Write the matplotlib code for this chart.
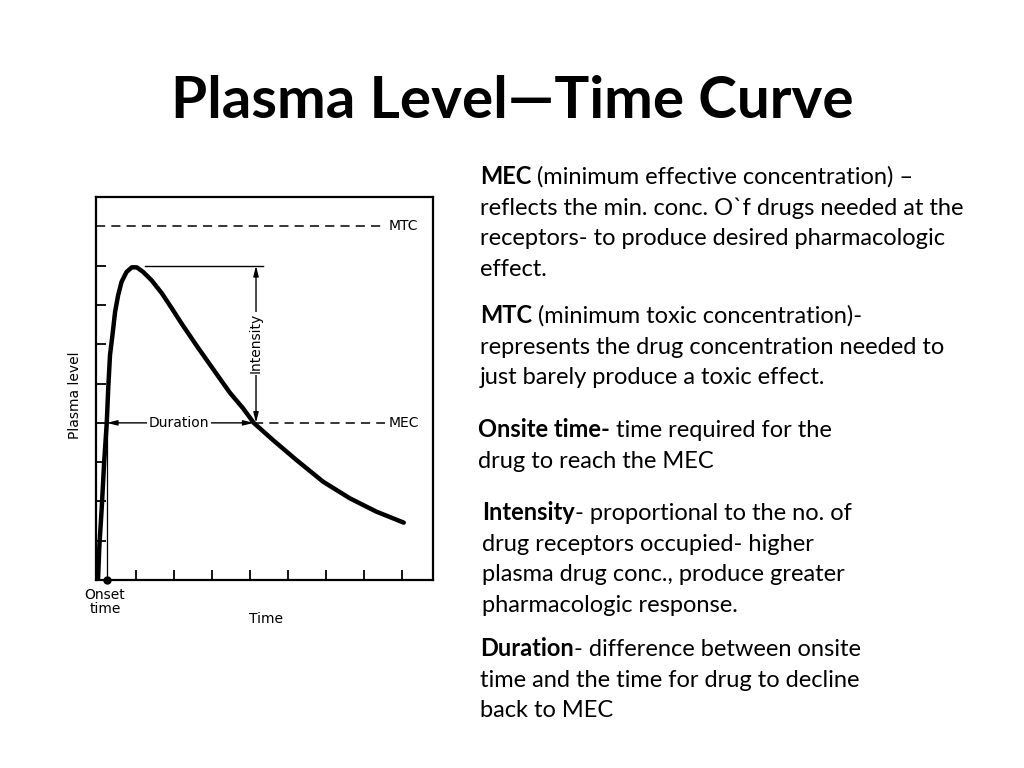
import matplotlib
matplotlib.use('Agg')
import matplotlib.pyplot as plt

W, H = 1024, 768
TXT_FONT = 'Lato'
DIA_FONT = 'DejaVu Sans'

# curve (time units = x ticks, level units = y ticks)
time = [0.0, 0.035, 0.10, 0.16, 0.23, 0.27, 0.316, 0.38, 0.45, 0.53, 0.62,
        0.75, 0.89, 1.02, 1.19, 1.41, 1.68, 1.94, 2.2, 2.6, 3.03, 3.47,
        3.82, 4.1, 4.61, 5.23, 5.93, 6.63, 7.33, 8.05]
level = [0.0, 0.85, 1.87, 2.97, 4.0, 4.9, 5.73, 6.23, 6.83, 7.25, 7.59,
         7.84, 7.96, 7.96, 7.84, 7.63, 7.30, 6.92, 6.53, 5.96, 5.37, 4.77,
         4.37, 4.0, 3.56, 3.05, 2.50, 2.08, 1.74, 1.46]
mec, mtc = 4.0, 9.0
onset, decline = 0.23, 4.1
peak = 8.0
ticks = [1, 2, 3, 4, 5, 6, 7, 8]

# right-hand notes: (bold word, rest of first line, more lines)
notes = [
    ('MEC', ' (minimum effective concentration) \u2013',
     ['reflects the min. conc. O`f drugs needed at the',
      'receptors- to produce desired pharmacologic', 'effect.']),
    ('MTC', ' (minimum toxic concentration)-',
     ['represents the drug concentration needed to',
      'just barely produce a toxic effect.']),
    ('Onsite time-', ' time required for the', ['drug to reach the MEC']),
    ('Intensity', '- proportional to the no. of',
     ['drug receptors occupied- higher',
      'plasma drug conc., produce greater', 'pharmacologic response.']),
    ('Duration', '- difference between onsite',
     ['time and the time for drug to decline', 'back to MEC']),
]
note_x = [480, 480, 478, 482, 480]
note_y = [184, 323, 437, 520, 656]
pitch = 30.7
FS = 17

fig = plt.figure(figsize=(W / 100, H / 100), dpi=100)
fig.patch.set_facecolor('white')


def px(x, y):
    return x / W, 1 - y / H


# diagram
ax = fig.add_axes([96 / W, 1 - 580 / H, 337 / W, 383 / H])
ax.set_xlim(-0.053, 8.82)
ax.set_ylim(0, 9.75)
for s in ax.spines.values():
    s.set_linewidth(1.6)
ax.set_xticks(ticks)
ax.set_yticks(ticks)
ax.set_xticklabels([])
ax.set_yticklabels([])
ax.tick_params(direction='in', length=7, width=1.3)

fig.text(*px(512, 118), 'Plasma Level\u2014Time Curve', ha='center',
         va='baseline', fontsize=42, fontweight='bold', family=TXT_FONT)

for (bold, rest, more), x0, y0 in zip(notes, note_x, note_y):
    t = fig.text(*px(x0, y0), bold, fontsize=FS, fontweight='bold',
                 family=TXT_FONT, va='baseline')
    ax.annotate(rest, xy=(1, 0), xycoords=t, va='bottom', ha='left',
                fontsize=FS, family=TXT_FONT, annotation_clip=False)
    for i, line in enumerate(more):
        fig.text(*px(x0, y0 + pitch * (i + 1)), line, fontsize=FS,
                 family=TXT_FONT, va='baseline')

ax.plot(time, level, color='black', lw=3.2, solid_capstyle='round',
        solid_joinstyle='round')
ax.plot([-0.05, 7.55], [mtc, mtc], color='black', lw=1.1, dashes=(6, 4))
ax.plot([decline, 7.55], [mec, mec], color='black', lw=1.1, dashes=(6, 4))
ax.text(7.66, mtc, 'MTC', va='center', ha='left', fontsize=10, family=DIA_FONT)
ax.text(7.66, mec, 'MEC', va='center', ha='left', fontsize=10, family=DIA_FONT)

# onset marker and vertical line
ax.plot([onset, onset], [0, mec], color='black', lw=0.9)
ax.plot([onset], [0], 'o', color='black', ms=5, clip_on=False, zorder=5)

# duration arrow
ax.annotate('', xy=(onset, mec), xytext=(decline, mec),
            arrowprops=dict(arrowstyle='<|-|>,head_length=0.6,head_width=0.15',
                            color='black', lw=1, shrinkA=0, shrinkB=0))
ax.text(2.13, mec, 'Duration', ha='center', va='center', fontsize=10,
        family=DIA_FONT, bbox=dict(facecolor='white', edgecolor='none', pad=1))

# intensity arrow
ax.plot([1.24, 4.34], [peak, peak], color='black', lw=1)
ax.annotate('', xy=(4.16, peak), xytext=(4.16, mec),
            arrowprops=dict(arrowstyle='<|-|>,head_length=0.6,head_width=0.15',
                            color='black', lw=1, shrinkA=0, shrinkB=0))
ax.text(4.16, 6.03, 'Intensity', ha='center', va='center', rotation=90,
        fontsize=10, family=DIA_FONT,
        bbox=dict(facecolor='white', edgecolor='none', pad=1))

ax.text(-0.6, 4.7, 'Plasma level', rotation=90, ha='center', va='center',
        fontsize=10, family=DIA_FONT, clip_on=False)
ax.text(onset - 0.05, -0.2, 'Onset\ntime', ha='center', va='top',
        fontsize=10, family=DIA_FONT, linespacing=1.0, clip_on=False)
ax.text(4.42, -0.81, 'Time', ha='center', va='top', fontsize=10,
        family=DIA_FONT, clip_on=False)

fig.savefig('out.png', dpi=100, facecolor='white')
